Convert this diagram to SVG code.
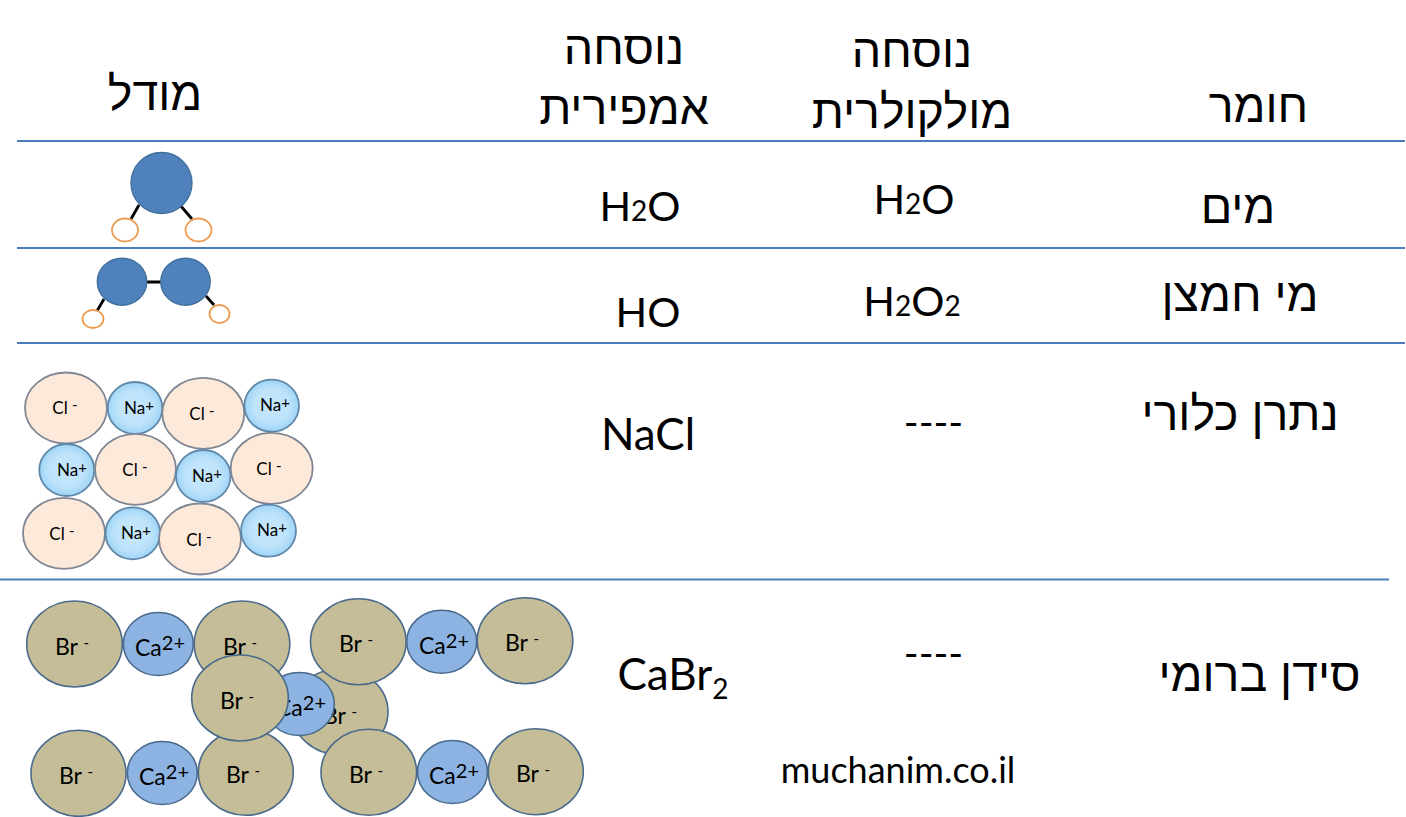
<svg xmlns="http://www.w3.org/2000/svg" width="1406" height="817" viewBox="0 0 1406 817">
<style>
text{font-family:"Lato","Liberation Sans",sans-serif;fill:#000;text-anchor:middle}
.h{font-family:"Liberation Sans",sans-serif;font-size:46.500px}
.f{font-size:44px}
.g{font-size:41.500px}
.d{font-size:40px}
.s{font-size:28px}
.rule{stroke:#4a7ebb;stroke-width:2;fill:none}
.bond{stroke:#000;stroke-width:2.800;fill:none}
.O{fill:#4f81bd;stroke:#41719c;stroke-width:1.400}
.H{fill:#fff;stroke:#ed9b50;stroke-width:1.800}
.cl{fill:#fde9d9;stroke:#7f8694;stroke-width:1.800}
.na{fill:url(#naG);stroke:#5f87a8;stroke-width:1.800}
.br{fill:#c4bd97;stroke:#4a6a8c;stroke-width:1.600}
.ca{fill:#8db3e2;stroke:#4a6a8c;stroke-width:1.600}
.t1{font-size:17px}
.t2{font-size:23px}
.up{font-size:15px}
.up2{font-size:20px}
</style>
<defs>
<radialGradient id="naG" cx="50%" cy="50%" r="55%"><stop offset="0" stop-color="#c6e7fb"/><stop offset="0.6" stop-color="#bde3fb"/><stop offset="1" stop-color="#96d0f6"/></radialGradient>
</defs>
<rect width="1406" height="817" fill="#fff"/>
<g id="connectors">
<path class="rule" d="M17 141H1405M17 248H1405M17 343H1405M0 579.500H1389"/>
<path class="bond" d="M139 205L131 219M180 205L192 219M104 299L97 311M206 296L214 305M146 282H161"/>
</g>
<g id="headers">
<text class="h" x="624" y="64">נוסחה</text>
<text class="h" x="624" y="124">אמפירית</text>
<text class="h" x="912" y="67">נוסחה</text>
<text class="h" x="912" y="128">מולקולרית</text>
<text class="h" x="1258.500" y="122">חומר</text>
<text class="h" x="155" y="110">מודל</text>
</g>
<g id="names">
<text class="h" x="1238" y="223">מים</text>
<text class="h" x="1240" y="311">מי חמצן</text>
<text class="h" x="1240" y="430">נתרן כלורי</text>
<text class="h" x="1259.500" y="691">סידן ברומי</text>
</g>
<g id="empirical">
<text class="g" x="640" y="221">H<tspan class="s">2</tspan>O</text>
<text class="g" x="648" y="326.500">HO</text>
<text class="f" x="648" y="450">NaCl</text>
<text class="f" x="673" y="690">CaBr<tspan class="s" dy="9">2</tspan></text>
</g>
<g id="molecular">
<text class="g" x="914" y="214">H<tspan class="s">2</tspan>O</text>
<text class="g" x="912" y="316">H<tspan class="s">2</tspan>O<tspan class="s">2</tspan></text>
<text class="d" x="933.500" y="437">----</text>
<text class="d" x="933.500" y="668">----</text>
<text x="898" y="783" font-size="36">muchanim.co.il</text>
</g>
<g id="water">
<circle class="O" cx="161.500" cy="183" r="30.500"/>
<ellipse class="H" cx="125" cy="230" rx="13" ry="11.500"/>
<ellipse class="H" cx="198.500" cy="230" rx="13" ry="11.500"/>
</g>
<g id="peroxide">
<ellipse class="O" cx="122" cy="281.700" rx="24.700" ry="23.500"/>
<ellipse class="O" cx="185.500" cy="281.700" rx="24.700" ry="23.500"/>
<ellipse class="H" cx="93" cy="319" rx="10.500" ry="9"/>
<ellipse class="H" cx="219.500" cy="314" rx="10" ry="9"/>
</g>
<g id="nacl">
<ellipse class="cl" cx="66" cy="408" rx="41" ry="35.500"/><text class="t1" x="65" y="414">Cl <tspan class="up" dy="-4">-</tspan></text>
<ellipse class="na" cx="135" cy="408" rx="27.300" ry="26"/><text class="t1" x="139" y="414">Na<tspan class="up" dy="-3">+</tspan></text>
<ellipse class="cl" cx="203.300" cy="413.300" rx="41" ry="35.500"/><text class="t1" x="202" y="420">Cl <tspan class="up" dy="-4">-</tspan></text>
<ellipse class="na" cx="271.700" cy="405.700" rx="27.300" ry="26"/><text class="t1" x="275" y="411">Na<tspan class="up" dy="-3">+</tspan></text>
<ellipse class="na" cx="66.800" cy="470" rx="27.500" ry="26"/><text class="t1" x="72" y="476">Na<tspan class="up" dy="-3">+</tspan></text>
<ellipse class="cl" cx="135.500" cy="469.300" rx="40.500" ry="35.500"/><text class="t1" x="135" y="476">Cl <tspan class="up" dy="-4">-</tspan></text>
<ellipse class="na" cx="203.300" cy="476" rx="27.300" ry="26"/><text class="t1" x="207" y="482">Na<tspan class="up" dy="-3">+</tspan></text>
<ellipse class="cl" cx="271.700" cy="468.300" rx="41" ry="35.500"/><text class="t1" x="269" y="475">Cl <tspan class="up" dy="-4">-</tspan></text>
<ellipse class="cl" cx="64" cy="533.300" rx="41" ry="35.500"/><text class="t1" x="62" y="540">Cl <tspan class="up" dy="-4">-</tspan></text>
<ellipse class="na" cx="132.800" cy="533.300" rx="27.300" ry="26"/><text class="t1" x="136" y="539">Na<tspan class="up" dy="-3">+</tspan></text>
<ellipse class="cl" cx="200" cy="539" rx="41" ry="35.500"/><text class="t1" x="199" y="546">Cl <tspan class="up" dy="-4">-</tspan></text>
<ellipse class="na" cx="268.500" cy="530.700" rx="27.500" ry="26"/><text class="t1" x="272" y="536">Na<tspan class="up" dy="-3">+</tspan></text>
</g>
<g id="cabr2">
<ellipse class="br" cx="74.500" cy="644" rx="47.800" ry="43"/><text class="t2" x="72" y="655">Br <tspan class="up" dy="-7">-</tspan></text>
<ellipse class="ca" cx="158.300" cy="644" rx="35" ry="31.500"/><text class="t2" x="160" y="656">Ca<tspan class="up2" dy="-6">2+</tspan></text>
<ellipse class="br" cx="242" cy="644" rx="47.800" ry="43"/><text class="t2" x="240" y="655">Br <tspan class="up" dy="-7">-</tspan></text>
<ellipse class="br" cx="340" cy="711.700" rx="48" ry="43"/><text class="t2" x="340" y="724">Br <tspan class="up" dy="-7">-</tspan></text>
<ellipse class="ca" cx="299.300" cy="704" rx="35" ry="31.500"/><text class="t2" x="301" y="716">Ca<tspan class="up2" dy="-6">2+</tspan></text>
<ellipse class="br" cx="358.300" cy="641.700" rx="47.800" ry="43"/><text class="t2" x="356" y="652">Br <tspan class="up" dy="-7">-</tspan></text>
<ellipse class="ca" cx="441.700" cy="641.700" rx="35" ry="31.500"/><text class="t2" x="444" y="654">Ca<tspan class="up2" dy="-6">2+</tspan></text>
<ellipse class="br" cx="525" cy="640.700" rx="47.800" ry="43"/><text class="t2" x="522" y="651">Br <tspan class="up" dy="-7">-</tspan></text>
<ellipse class="br" cx="78.500" cy="773.300" rx="47.500" ry="43"/><text class="t2" x="76" y="784">Br <tspan class="up" dy="-7">-</tspan></text>
<ellipse class="ca" cx="162.300" cy="773" rx="35" ry="31.500"/><text class="t2" x="164" y="785">Ca<tspan class="up2" dy="-6">2+</tspan></text>
<ellipse class="br" cx="245.800" cy="772.300" rx="47.500" ry="43"/><text class="t2" x="243" y="783">Br <tspan class="up" dy="-7">-</tspan></text>
<ellipse class="br" cx="240" cy="698" rx="48.300" ry="43"/><text class="t2" x="237" y="709">Br <tspan class="up" dy="-7">-</tspan></text>
<ellipse class="br" cx="368.800" cy="772.300" rx="47.800" ry="43"/><text class="t2" x="366" y="783">Br <tspan class="up" dy="-7">-</tspan></text>
<ellipse class="ca" cx="452.500" cy="772" rx="35" ry="31.500"/><text class="t2" x="454" y="784">Ca<tspan class="up2" dy="-6">2+</tspan></text>
<ellipse class="br" cx="535.800" cy="771.700" rx="47.500" ry="43"/><text class="t2" x="533" y="782">Br <tspan class="up" dy="-7">-</tspan></text>
</g>
</svg>
